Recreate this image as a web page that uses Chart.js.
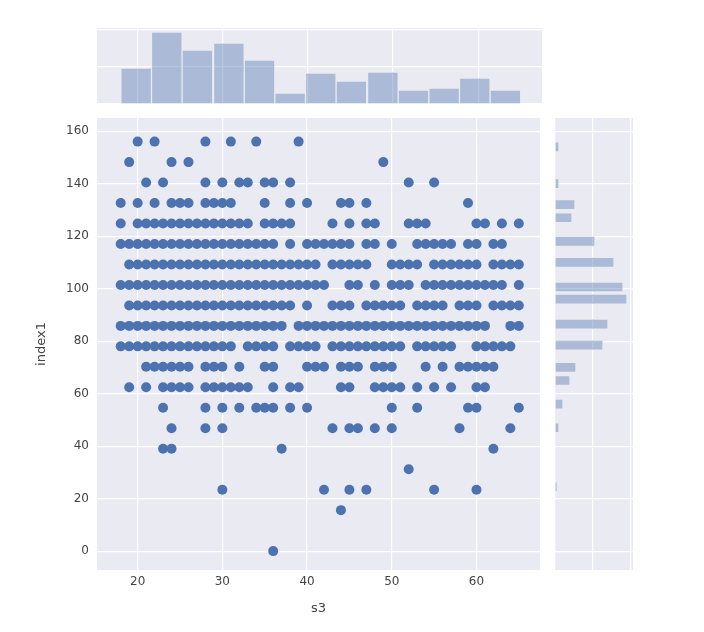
<!DOCTYPE html>
<html><head><meta charset="utf-8">
<script src="https://cdn.jsdelivr.net/npm/chart.js@4"></script>
<style>body{margin:0;background:#fff}canvas{position:absolute}</style>
</head><body>
<canvas id="top" style="left:0;top:0;width:545px;height:110px"></canvas>
<canvas id="main" style="left:0;top:0;width:545px;height:632px"></canvas>
<canvas id="right" style="left:545px;top:0;width:159px;height:632px"></canvas>
<script>
// y levels and x values at each level
const levels = [156, 148.2, 140.4, 132.6, 124.8, 117, 109.2, 101.4, 93.6, 85.8, 78, 70.2, 62.4, 54.6, 46.8, 39, 31.2, 23.4, 15.6, 0];
const xsAtLevel = [
 [20,22,28,31,34,39],
 [19,24,26,49],
 [21,23,28,30,32,33,35,36,38,52,55],
 [18,20,22,24,25,26,28,29,30,31,35,38,40,44,45,47,59],
 [18,20,21,22,23,24,25,26,27,28,29,30,31,32,33,35,36,37,38,43,45,47,48,52,53,54,60,61,63,65],
 [18,19,20,21,22,23,24,25,26,27,28,29,30,31,32,33,34,35,36,38,40,41,42,43,44,45,47,48,50,53,54,55,56,57,59,60,62,63],
 [19,20,21,22,23,24,25,26,27,28,29,30,31,32,33,34,35,36,37,38,39,40,41,43,44,45,46,47,50,51,52,53,55,56,57,58,59,60,62,63,64,65],
 [18,19,20,21,22,23,24,25,26,27,28,29,30,31,32,33,34,35,36,37,38,39,40,41,42,45,46,48,50,51,52,54,55,56,57,58,59,60,61,62,63,65],
 [19,20,21,22,23,24,25,26,27,28,29,30,31,32,33,34,35,36,37,38,40,43,44,45,47,48,49,50,51,53,54,55,56,58,59,60,62,63,64,65],
 [18,19,20,21,22,23,24,25,26,27,28,29,30,31,32,33,34,35,36,37,39,40,41,42,43,44,45,46,47,48,49,50,51,52,53,54,55,56,57,58,59,60,61,64,65],
 [18,19,20,21,22,23,24,25,26,27,28,29,30,31,33,34,35,36,38,39,40,41,43,44,45,46,47,48,49,50,51,53,54,55,56,57,60,61,62,63,64],
 [21,22,23,24,25,26,28,29,30,32,35,36,40,41,42,44,45,46,48,49,50,54,56,58,59,60,61,62],
 [19,21,23,24,25,26,28,29,30,31,32,33,36,38,39,44,45,48,49,50,51,53,55,57,60,61],
 [23,28,30,32,34,35,36,38,40,50,53,59,60,65],
 [24,28,30,43,45,46,48,50,58,64],
 [23,24,37,62],
 [52],
 [30,42,45,47,55,60],
 [44],
 [36]
];
// top marginal histogram (s3)
const topBinCenters = [19.8,23.4,27.0,30.7,34.3,37.9,41.5,45.1,48.8,52.4,56.0,59.6,63.2];
const topCounts = [36,72,54,61,44,11,31,23,32,14,16,26,14];
// right marginal histogram (index1)
const rightBinCenters = [154,140,132,127,118,110,100.6,96,86.5,78.5,70,65,56,47,24.5];
const rightCounts = [4,4,20,17,40,59,68,72,53,48,21,15,8,4,2];

const points = [];
levels.forEach((y,i)=>xsAtLevel[i].forEach(x=>points.push({x,y})));

const bg = {id:'bg',beforeDraw(c){const a=c.chartArea,g=c.ctx;g.save();g.fillStyle='#eaeaf2';g.fillRect(a.left,a.top,a.right-a.left,a.bottom-a.top);g.restore();}};
const FONT = {family:'"DejaVu Sans", sans-serif', size:12};
const grid = {color:'#ffffff', lineWidth:1.2, drawTicks:false, offset:false};
const XMIN=15.2, XMAX=67.5, YMIN=-7.2, YMAX=165;
Chart.defaults.animation=false;
Chart.defaults.plugins.legend.display=false;
Chart.defaults.plugins.tooltip.enabled=false;

new Chart(document.getElementById('main'),{
 type:'scatter',
 data:{datasets:[{data:points,backgroundColor:'#4c72b0',borderWidth:0,pointRadius:5}]},
 options:{responsive:false,maintainAspectRatio:false,layout:{padding:{top:118,right:3,left:34,bottom:16}},
  scales:{
   x:{type:'linear',min:XMIN,max:XMAX,border:{display:false},grid,
      ticks:{color:'#444',font:FONT,padding:5},
      afterBuildTicks(s){s.ticks=[20,30,40,50,60].map(v=>({value:v}));},
      title:{display:true,text:'s3',color:'#444',font:{...FONT,size:13},padding:0},
      afterFit(s){s.height=46;}},
   y:{type:'linear',min:YMIN,max:YMAX,border:{display:false},grid,
      afterBuildTicks(s){s.ticks=[0,20,40,60,80,100,120,140,160].map(v=>({value:v}));},
      ticks:{color:'#444',font:FONT,padding:8},
      title:{display:true,text:'index1',color:'#444',font:{...FONT,size:13},padding:0},
      afterFit(s){s.width=63;}}
  }},
 plugins:[bg]
});

new Chart(document.getElementById('top'),{
 type:'bar',
 data:{datasets:[{data:topBinCenters.map((x,i)=>({x,y:topCounts[i]})),backgroundColor:'rgba(76,114,176,0.4)',borderColor:'#eaeaf2',borderWidth:1,barPercentage:1,categoryPercentage:1}]},
 options:{responsive:false,maintainAspectRatio:false,layout:{padding:{top:28,right:3,left:97,bottom:6}},
  scales:{
   x:{type:'linear',offset:false,min:XMIN,max:XMAX,border:{display:false},grid,
      afterBuildTicks(s){s.ticks=[20,30,40,50,60].map(v=>({value:v}));},ticks:{display:false}},
   y:{min:0,max:76,border:{display:false},grid,
      afterBuildTicks(s){s.ticks=[0,37,74].map(v=>({value:v}));},ticks:{display:false}}
  }},
 plugins:[bg]
});

new Chart(document.getElementById('right'),{
 type:'bar',
 data:{datasets:[{data:rightBinCenters.map((y,i)=>({y,x:rightCounts[i]})),backgroundColor:'rgba(76,114,176,0.4)',borderColor:'#eaeaf2',borderWidth:1,barThickness:10}]},
 options:{indexAxis:'y',responsive:false,maintainAspectRatio:false,layout:{padding:{top:118,right:71,left:10,bottom:62}},
  scales:{
   y:{type:'linear',offset:false,min:YMIN,max:YMAX,border:{display:false},grid,
      afterBuildTicks(s){s.ticks=[0,20,40,60,80,100,120,140,160].map(v=>({value:v}));},ticks:{display:false}},
   x:{type:'linear',min:0,max:78,border:{display:false},grid,
      afterBuildTicks(s){s.ticks=[0,38,76].map(v=>({value:v}));},ticks:{display:false}}
  }},
 plugins:[bg]
});
</script></body></html>
